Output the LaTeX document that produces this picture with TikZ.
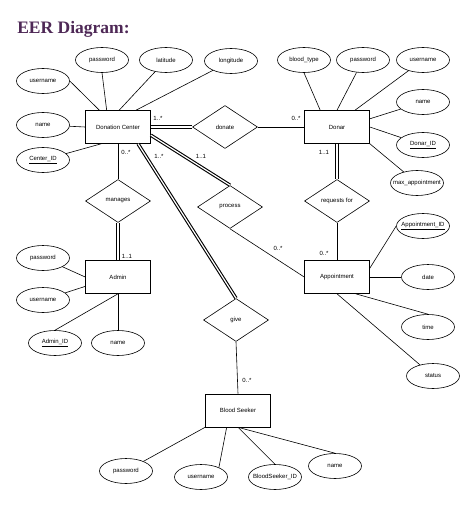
\documentclass[tikz,border=0pt]{standalone}
\usepackage{fontspec}
\setmainfont{Liberation Sans}
\newfontfamily\titlefont{Liberation Serif}
\usetikzlibrary{shapes.geometric}
\definecolor{titlepurple}{RGB}{78,40,86}
\tikzset{
  attr/.style={ellipse, draw, minimum width=53pt, minimum height=25pt, inner sep=0pt, inner xsep=-8pt},
  entity/.style={rectangle, draw, minimum width=65pt, minimum height=33pt},
  rel/.style={diamond, draw, aspect=1.5, minimum width=65pt, minimum height=43pt, inner sep=0pt},
  total/.style={double, line width=1.1pt, double distance=1.2pt},
  mult/.style={inner sep=0pt}
}
\begin{document}
\begin{tikzpicture}[x=1pt, y=-1pt, line width=0.6pt, font=\fontsize{6}{7}\selectfont]
\useasboundingbox (0,0) rectangle (474,506);

\node[anchor=base west, inner sep=0pt, text=titlepurple, font=\titlefont\bfseries\fontsize{17.5}{20}\selectfont] (title) at (17,33) {EER Diagram:};

\node[entity] (dc) at (118,127) {Donation Center};
\node[entity] (dn) at (337,127) {Donar};
\node[entity] (ad) at (118,277) {Admin};
\node[entity] (ap) at (337,277) {Appointment};
\node[entity] (bs) at (238,410.5) {Blood Seeker};

\node[rel] (dnt) at (225,127) {donate};
\node[rel] (mg) at (118,201) {manages};
\node[rel] (rq) at (337,201) {requests for};
\node[rel] (pr) at (230,207) {process};
\node[rel] (gv) at (236,320) {give};

\foreach \n/\x/\y/\t in {dcu/43/81/username, dcp/102/60/password, dcl/166/60/latitude, dclo/231/61/longitude,
  dcn/43/125/name, dci/43/160/\underline{Center\_ID},
  dnb/304/60/blood\_type, dnp/363/60/password, dnu/423/60/username, dnn/423/102/name,
  dni/423/145/\underline{Donar\_ID}, dnm/417/183/max\_appointment,
  api/423/226/\underline{Appointment\_ID}, apd/428/277/date, apt/428/327/time, aps/433/376/status,
  adp/43/258/password, adu/43/300/username, adi/55/343/\underline{Admin\_ID}, adn/118/343/name,
  bsp/126/471/password, bsu/201/477/username, bsi/275/477/BloodSeeker\_ID, bsn/335/466/name}
  \node[attr] (\n) at (\x,\y) {\t};

\foreach \from/\to in {dcu.east/dc.138, dcp.south/dc.124, dcl/dc.86, dclo/dc.43, dcn/dc.west, dci/dc.225,
  dnb.south/dn.135, dnp/dn.north, dnu/dn.43, dnn/dn.14, dni/dn.east, dnm/dn.333,
  api.west/ap.15, apd/ap.east, apt.north/ap.318, aps/ap.south,
  adp/ad.west, adu/ad.196, adi.north/ad.south, adn/ad.south,
  bsp/bs.207, bsu.28/bs.236, bsi.north/bs.south, bsn.north/bs.south,
  dnt.east/dn.west, dc.south/mg.north, rq.south/ap.north, pr.south/ap.west, gv.south/bs.north}
  \draw (\from) -- (\to);

\foreach \from/\to in {dc.east/dnt.west, mg.south/ad.north, dn.south/rq.north, dc.346/pr.north, dc.320/gv.north}
  \draw[total] (\from) -- (\to);

\node[mult] (m1) at (158,118) {1..*};
\node[mult] (m2) at (296,118) {0..*};
\node[mult] (m3) at (126,152) {0..*};
\node[mult] (m4) at (159,156) {1..*};
\node[mult] (m5) at (201,156) {1..1};
\node[mult] (m6) at (127,256) {1..1};
\node[mult] (m7) at (324,152) {1..1};
\node[mult] (m8) at (324,253) {0..*};
\node[mult] (m9) at (278,248) {0..*};
\node[mult] (m10) at (247,380) {0..*};
\end{tikzpicture}
\end{document}
